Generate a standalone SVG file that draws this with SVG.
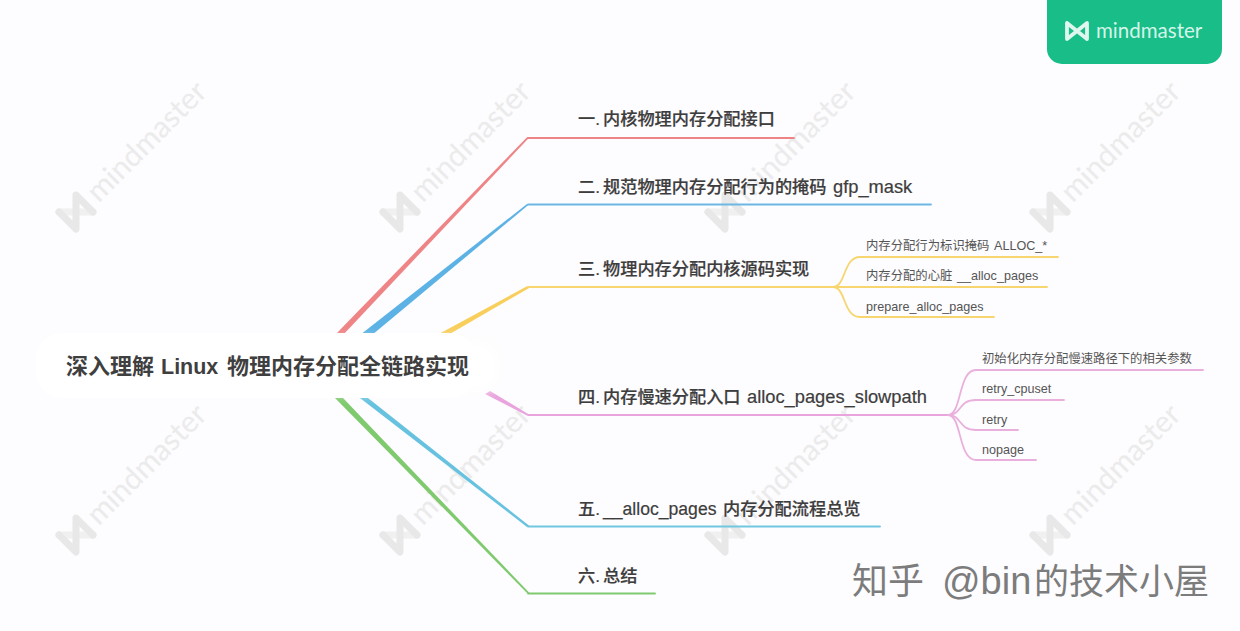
<svg xmlns="http://www.w3.org/2000/svg" width="1240" height="631" viewBox="0 0 1240 631">
<style>
text{font-family:"Liberation Sans","Noto Sans CJK SC",sans-serif}
.wm{font-family:"Lato","Liberation Sans",sans-serif;font-size:30px;fill:#ebebeb}
.wl{fill:none;stroke:#e8e8e8;stroke-width:7;stroke-linejoin:round;stroke-linecap:round}
.t1{font-size:17.2px;font-weight:500;fill:#3d3d3d;stroke:#3d3d3d;stroke-width:.2}
.t1 .l{font-size:18.3px}
.t1 .s{font-size:17.6px}
.t2{font-size:12.35px;fill:#555}
.t2 .l{font-size:12.6px}
.root{font-size:22px;font-weight:700;fill:#3f3f3f}
.root .l{font-size:21.5px}
.c{fill:none;stroke-width:1.8;stroke-linecap:round}
.zh{font-size:35px;fill:#7c7c7c}
</style>
<defs>
<filter id="soft" x="-10%" y="-40%" width="120%" height="180%"><feGaussianBlur stdDeviation="6"/></filter>
<g id="wm"><path class="wl" d="M-12 -12L-12 12L12 -12L12 12"/><path class="wl" d="M-12 -12L0 0M0 0L12 12" opacity=".6"/><text class="wm" x="22" y="10">mindmaster</text></g>
</defs>
<rect width="1240" height="631" fill="#fdfcfe"/>
<g id="watermarks">
<use href="#wm" transform="translate(76 212) rotate(-45)"/>
<use href="#wm" transform="translate(400 212) rotate(-45)"/>
<use href="#wm" transform="translate(725 212) rotate(-45)"/>
<use href="#wm" transform="translate(1050 212) rotate(-45)"/>
<use href="#wm" transform="translate(76 535) rotate(-45)"/>
<use href="#wm" transform="translate(400 535) rotate(-45)"/>
<use href="#wm" transform="translate(725 535) rotate(-45)"/>
<use href="#wm" transform="translate(1050 535) rotate(-45)"/>
</g>
<g id="connectors">
<polygon points="335,335 343,335 529.500,137.300 527,137.300" fill="#ee8486"/>
<path class="c" d="M528 138H794" stroke="#ee8486"/>
<polygon points="360,335 372,335 529.500,204 527,204" fill="#5cb2e4"/>
<path class="c" d="M528 204.500H931" stroke="#6db7e4"/>
<polygon points="437,335 448,335 529.500,287.800 527,286.300" fill="#f9cf5b"/>
<path class="c" d="M528 287H832" stroke="#f7d66f"/>
<path class="c" d="M833 287C846 287 843 257 860 257H1058" stroke="#f7d66f"/>
<path class="c" d="M833 287H1047" stroke="#f7d66f"/>
<path class="c" d="M833 287C846 287 843 317 860 317H994" stroke="#f7d66f"/>
<polygon points="485,394 490,391 529,414.500 527,415.500" fill="#e9a4dd"/>
<path class="c" d="M528 415H947" stroke="#e9a4dd"/>
<path class="c" d="M948 415C962 415 958 370 976 370H1203" stroke="#e9b0dd"/>
<path class="c" d="M948 415C962 415 958 400 976 400H1064" stroke="#e9b0dd"/>
<path class="c" d="M948 415C962 415 958 430 976 430H1018" stroke="#e9b0dd"/>
<path class="c" d="M948 415C962 415 958 460 976 460H1036" stroke="#e9b0dd"/>
<polygon points="360,398 368,398 529.500,526 527,527" fill="#66c2de"/>
<path class="c" d="M528 526.500H880" stroke="#71c6e0"/>
<polygon points="335,398 343,398 529.500,593 527,593" fill="#7fca6e"/>
<path class="c" d="M528 593.500H655" stroke="#7fca6e"/>
</g>
<g id="root">
<rect x="40" y="340" width="460" height="52" rx="22" fill="#fff" filter="url(#soft)"/>
<rect x="36" y="333" width="440" height="65" rx="26" fill="#fff"/>
<text class="root" y="374"><tspan x="66">深入理解</tspan><tspan class="l" x="161">Linux</tspan><tspan x="227">物理内存分配全链路实现</tspan></text>
</g>
<g id="node-1"><text class="t1" y="125"><tspan x="578">一.</tspan><tspan x="603">内核物理内存分配接口</tspan></text></g>
<g id="node-2"><text class="t1" y="193"><tspan x="578">二.</tspan><tspan x="603">规范物理内存分配行为的掩码</tspan><tspan class="l" x="833">gfp_mask</tspan></text></g>
<g id="node-3"><text class="t1" y="275"><tspan x="578">三.</tspan><tspan x="603">物理内存分配内核源码实现</tspan></text></g>
<g id="node-3-1"><text class="t2" y="250"><tspan x="866">内存分配行为标识掩码</tspan><tspan class="l" x="994">ALLOC_*</tspan></text></g>
<g id="node-3-2"><text class="t2" y="280"><tspan x="866">内存分配的心脏</tspan><tspan class="l" x="957">__alloc_pages</tspan></text></g>
<g id="node-3-3"><text class="t2" y="311"><tspan class="l" x="866">prepare_alloc_pages</tspan></text></g>
<g id="node-4"><text class="t1" y="403"><tspan x="578">四.</tspan><tspan x="603">内存慢速分配入口</tspan><tspan class="l" x="747">alloc_pages_slowpath</tspan></text></g>
<g id="node-4-1"><text class="t2" x="982" y="363">初始化内存分配慢速路径下的相关参数</text></g>
<g id="node-4-2"><text class="t2" y="393"><tspan class="l" x="982">retry_cpuset</tspan></text></g>
<g id="node-4-3"><text class="t2" y="424"><tspan class="l" x="982">retry</tspan></text></g>
<g id="node-4-4"><text class="t2" y="454"><tspan class="l" x="982">nopage</tspan></text></g>
<g id="node-5"><text class="t1" y="515"><tspan x="578">五.</tspan><tspan class="s" x="603">__alloc_pages</tspan><tspan x="723">内存分配流程总览</tspan></text></g>
<g id="node-6"><text class="t1" y="582"><tspan x="578">六.</tspan><tspan x="603">总结</tspan></text></g>
<g id="brand">
<path d="M1047 0H1222V49A15 15 0 0 1 1207 64H1062A15 15 0 0 1 1047 49Z" fill="#18bd87"/>
<path d="M1067 23L1067 39L1087 23L1087 39M1067 23L1087 39" fill="none" stroke="#dff7ee" stroke-width="3.8" stroke-linejoin="round" stroke-linecap="round"/>
<text x="1096" y="38" font-size="20.500" style="font-family:Lato,'Liberation Sans',sans-serif" fill="#d5f5ea">mindmaster</text>
</g>
<text class="zh" y="594"><tspan x="852" font-size="36">知乎</tspan><tspan x="942" font-size="38">@bin</tspan><tspan x="1034">的技术小屋</tspan></text>
</svg>
